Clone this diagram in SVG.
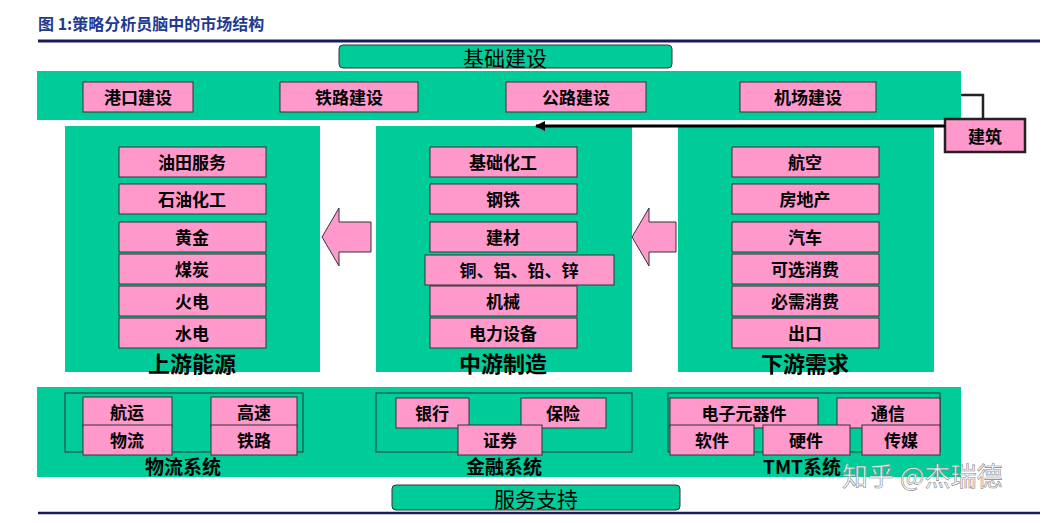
<svg xmlns="http://www.w3.org/2000/svg" width="1062" height="523" viewBox="0 0 1062 523">
<style>
text{font-family:"Noto Sans CJK SC","Liberation Sans",sans-serif;text-anchor:middle;fill:#000}
.g{fill:#00CC99}
.p{fill:#FF99CC;stroke:#333;stroke-width:1}
.t{font-size:17px;font-weight:bold}
.L{font-size:22px;font-weight:bold}
.o{fill:none;stroke:#333;stroke-width:1}
</style>
<defs><marker id="ah" markerWidth="10" markerHeight="10" refX="9" refY="5" orient="auto" markerUnits="userSpaceOnUse"><path d="M0,0L10,5L0,10z" fill="#000"/></marker></defs>
<rect width="1062" height="523" fill="#fff"/>
<text x="38" y="30" style="text-anchor:start;font-size:16px;font-weight:bold;fill:#1F3A8F">图 1:策略分析员脑中的市场结构</text>
<line x1="38" y1="41" x2="1040" y2="41" stroke="#1a1a5e" stroke-width="3"/>
<g id="jichu"><rect x="339" y="45" width="333" height="23" rx="4" class="g" stroke="#333"/><text x="505" y="66" style="font-size:21px">基础建设</text></g>
<g id="topband"><rect x="37" y="71" width="924" height="49" class="g"/>
<rect x="83" y="82" width="110" height="30" class="p"/><text x="138" y="104" class="t">港口建设</text>
<rect x="280" y="82" width="138" height="30" class="p"/><text x="349" y="104" class="t">铁路建设</text>
<rect x="506" y="82" width="140" height="30" class="p"/><text x="576" y="104" class="t">公路建设</text>
<rect x="740" y="82" width="136" height="30" class="p"/><text x="808" y="104" class="t">机场建设</text></g>
<g id="jianzhu"><rect x="945" y="119" width="80" height="33" fill="#FF99CC" stroke="#222" stroke-width="2.5"/><text x="985" y="143" class="t">建筑</text></g>
<g id="upstream"><rect x="65" y="126" width="255" height="246" class="g"/>
<rect x="119" y="147" width="147" height="30" class="p"/><text x="192" y="169" class="t">油田服务</text>
<rect x="119" y="184" width="147" height="30" class="p"/><text x="192" y="206" class="t">石油化工</text>
<rect x="119" y="222" width="147" height="30" class="p"/><text x="192" y="244" class="t">黄金</text>
<rect x="119" y="254" width="147" height="30" class="p"/><text x="192" y="276" class="t">煤炭</text>
<rect x="119" y="286" width="147" height="30" class="p"/><text x="192" y="308" class="t">火电</text>
<rect x="119" y="318" width="147" height="30" class="p"/><text x="192" y="340" class="t">水电</text>
<text x="192" y="372" class="L">上游能源</text></g>
<g id="midstream"><rect x="376" y="126" width="256" height="246" class="g"/>
<rect x="430" y="147" width="147" height="30" class="p"/><text x="503" y="169" class="t">基础化工</text>
<rect x="430" y="184" width="147" height="30" class="p"/><text x="503" y="206" class="t">钢铁</text>
<rect x="430" y="222" width="147" height="30" class="p"/><text x="503" y="244" class="t">建材</text>
<rect x="430" y="286" width="147" height="30" class="p"/><text x="503" y="308" class="t">机械</text>
<rect x="430" y="318" width="147" height="30" class="p"/><text x="503" y="340" class="t">电力设备</text>
<rect x="425" y="255" width="189" height="30" class="p"/><text x="519" y="277" class="t">铜、铝、铅、锌</text>
<text x="503" y="372" class="L">中游制造</text></g>
<g id="downstream"><rect x="678" y="126" width="256" height="246" class="g"/>
<rect x="732" y="147" width="147" height="30" class="p"/><text x="805" y="169" class="t">航空</text>
<rect x="732" y="184" width="147" height="30" class="p"/><text x="805" y="206" class="t">房地产</text>
<rect x="732" y="222" width="147" height="30" class="p"/><text x="805" y="244" class="t">汽车</text>
<rect x="732" y="254" width="147" height="30" class="p"/><text x="805" y="276" class="t">可选消费</text>
<rect x="732" y="286" width="147" height="30" class="p"/><text x="805" y="308" class="t">必需消费</text>
<rect x="732" y="318" width="147" height="30" class="p"/><text x="805" y="340" class="t">出口</text>
<text x="805" y="372" class="L">下游需求</text></g>
<g id="connectors">
<polyline points="961,95 983,95 983,119" fill="none" stroke="#222" stroke-width="2.5"/>
<line x1="945" y1="126" x2="536" y2="126" stroke="#000" stroke-width="3" marker-end="url(#ah)"/>
<path d="M322,237 L339,208 L339,222 L371,222 L371,252 L339,252 L339,266 Z" class="p"/>
<path d="M632,237 L649,208 L649,222 L676,222 L676,252 L649,252 L649,266 Z" class="p"/>
</g>
<g id="bottomband"><rect x="37" y="387" width="924" height="90" class="g"/>
<rect x="65" y="393" width="238" height="59" class="o"/>
<rect x="83" y="397" width="89" height="30" class="p"/><text x="127" y="419" class="t">航运</text>
<rect x="83" y="425" width="89" height="30" class="p"/><text x="127" y="447" class="t">物流</text>
<rect x="211" y="397" width="86" height="30" class="p"/><text x="254" y="419" class="t">高速</text>
<rect x="211" y="425" width="86" height="30" class="p"/><text x="254" y="447" class="t">铁路</text>
<text x="183" y="474" class="t" style="font-size:19px">物流系统</text>
<rect x="376" y="393" width="256" height="59" class="o"/>
<rect x="396" y="398" width="73" height="30" class="p"/><text x="432" y="420" class="t">银行</text>
<rect x="521" y="398" width="85" height="30" class="p"/><text x="563" y="420" class="t">保险</text>
<rect x="458" y="425" width="84" height="30" class="p"/><text x="500" y="447" class="t">证券</text>
<text x="504" y="474" class="t" style="font-size:19px">金融系统</text>
<rect x="668" y="393" width="272" height="59" class="o"/>
<rect x="670" y="398" width="148" height="30" class="p"/><text x="744" y="420" class="t">电子元器件</text>
<rect x="837" y="398" width="103" height="30" class="p"/><text x="888" y="420" class="t">通信</text>
<rect x="670" y="425" width="84" height="30" class="p"/><text x="712" y="447" class="t">软件</text>
<rect x="763" y="425" width="87" height="30" class="p"/><text x="806" y="447" class="t">硬件</text>
<rect x="862" y="425" width="78" height="30" class="p"/><text x="901" y="447" class="t">传媒</text>
<text x="802" y="474" class="t" style="font-size:19px">TMT系统</text></g>
<g id="fuwu"><rect x="392" y="485" width="288" height="25" rx="4" class="g" stroke="#333"/><text x="536" y="507" style="font-size:21px">服务支持</text></g>
<line x1="38" y1="513" x2="1040" y2="513" stroke="#1a1a5e" stroke-width="2.5"/>
<text x="842" y="486" style="text-anchor:start;font-size:26px;fill:#fff;fill-opacity:0.85;stroke:#888;stroke-width:0.6">知乎 @杰瑞德</text>
</svg>
